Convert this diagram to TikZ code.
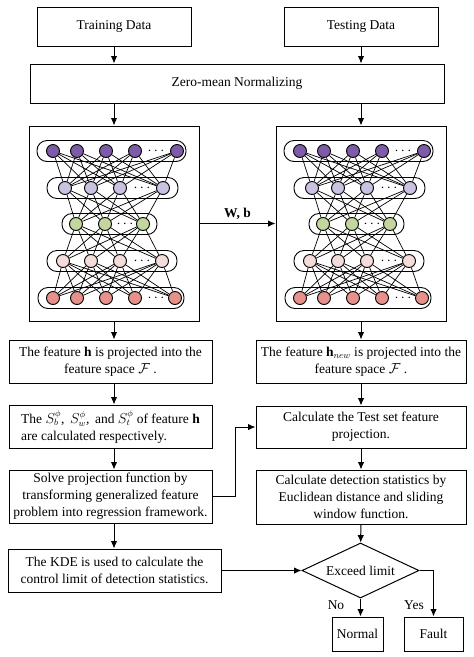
\documentclass[tikz,border=0pt]{standalone}
\usepackage{fontspec}
\setmainfont{Liberation Serif}
\usetikzlibrary{positioning,shapes.geometric,arrows.meta}

\definecolor{neuA}{HTML}{7D5BA6}
\definecolor{neuB}{HTML}{CBC1E1}
\definecolor{neuC}{HTML}{C3D69B}
\definecolor{neuD}{HTML}{F4DCDA}
\definecolor{neuE}{HTML}{E6918C}

\tikzset{
  box/.style={draw,line width=1pt,inner sep=2pt,align=center},
  arr/.style={-{Latex[length=7.5pt,width=6.5pt]},line width=1pt},
  neuron/.style={circle,draw,line width=.9pt,minimum size=13pt,inner sep=0pt},
  layerbox/.style={draw,line width=.9pt,rounded corners=10pt},
  link/.style={line width=.7pt},
  cond/.style={diamond,draw,line width=1pt,aspect=2.13,minimum width=117pt,minimum height=55pt,inner sep=0pt},
}

% one autoencoder network, #1 = name prefix, #2 = x of its centre
\newcommand{\drawnet}[2]{%
\begin{scope}[xshift=#2pt]
\foreach \ly/\xl/\xr in {151/-77/72,188/-67/64,224/-52/43,261/-67/63,298/-76/70}
  \draw[layerbox] (\xl,\ly-10.5) rectangle (\xr,\ly+10.5);
\foreach \x[count=\i] in {-61,-37,-8,21,63}
  \node[neuron,fill=neuA] (#1a\i) at (\x,151) {};
\foreach \x[count=\i] in {-49,-23,6,49}
  \node[neuron,fill=neuB] (#1b\i) at (\x,188) {};
\foreach \x[count=\i] in {-38,-9,29}
  \node[neuron,fill=neuC] (#1c\i) at (\x,224) {};
\foreach \x[count=\i] in {-51,-23,6,48}
  \node[neuron,fill=neuD] (#1d\i) at (\x,261) {};
\foreach \x[count=\i] in {-61,-37,-8,21,61}
  \node[neuron,fill=neuE] (#1e\i) at (\x,298) {};
\foreach \x/\y in {42/151,28/188,11/224,28/261,42/298}
  \node[inner sep=0pt] at (\x,\y) {$\cdots$};
\foreach \i in {1,...,5}{
  \foreach \j in {1,...,4}{
    \draw[link] (#1a\i) -- (#1b\j);
    \draw[link] (#1e\i) -- (#1d\j);
  }
}
\foreach \i in {1,...,4}{
  \foreach \j in {1,...,3}{
    \draw[link] (#1b\i) -- (#1c\j);
    \draw[link] (#1d\i) -- (#1c\j);
  }
}
\end{scope}}

\begin{document}
\begin{tikzpicture}[x=1pt,y=-1pt,font=\fontsize{13.5}{17}\selectfont]
\useasboundingbox (0,0) rectangle (474,657);

\node[box,minimum width=154pt,minimum height=39pt] (train) at (114,26.5) {Training Data};
\node[box,minimum width=154pt,minimum height=39pt] (test) at (361,26.5) {Testing Data};
\node[box,minimum width=414pt,minimum height=39pt] (norm) at (237,83.5) {Zero-mean Normalizing};

\node[draw,line width=1pt,minimum width=170pt,minimum height=195pt] (nnL) at (114,223.5) {};
\node[draw,line width=1pt,minimum width=170pt,minimum height=195pt] (nnR) at (361,223.5) {};
\drawnet{L}{114}
\drawnet{R}{361}

\coordinate (colL) at (114,0);
\coordinate (bend) at (235,0);

\node[box,minimum width=203pt,minimum height=43pt] (f1L) at (110.5,361.5)
  {The feature \textbf{h} is projected into the\\feature space $\mathcal{F}$ .};
\node[box,minimum width=210pt,minimum height=43pt] (f1R) at (361,361.5)
  {The feature \textbf{h}$_{new}$ is projected into the\\feature space $\mathcal{F}$ .};
\node[box,align=left,minimum width=203pt,minimum height=43pt] (f2L) at (110.5,426.5)
  {The $S_b^{\phi}$,\, $S_w^{\phi}$,\, and $S_t^{\phi}$ of feature \textbf{h}\\are calculated respectively.};
\node[box,minimum width=210pt,minimum height=42pt] (f2R) at (361,427)
  {Calculate the Test set feature\\projection.};
\node[box,minimum width=203pt,minimum height=53pt] (f3L) at (110.5,496.5)
  {Solve projection function by\\transforming generalized feature\\problem into regression framework.};
\node[box,minimum width=210pt,minimum height=54pt] (f3R) at (361,497)
  {Calculate detection statistics by\\Euclidean distance and sliding\\window function.};
\node[box,minimum width=213pt,minimum height=43pt] (kde) at (114.5,570.5)
  {The KDE is used to calculate the\\control limit of detection statistics.};
\node[cond] (limit) at (360.5,570.5) {Exceed limit};
\node[box,minimum width=51pt,minimum height=34pt] (normal) at (357.5,634) {Normal};
\node[box,minimum width=59pt,minimum height=34pt] (fault) at (433.5,634) {Fault};
\node (nolbl) at (336,605) {No};
\node (yeslbl) at (414,605) {Yes};

\draw[arr] (train) -- (train.south |- norm.north);
\draw[arr] (test) -- (test.south |- norm.north);
\draw[arr] (nnL.north |- norm.south) -- (nnL);
\draw[arr] (nnR.north |- norm.south) -- (nnR);
\draw[arr] (nnL) -- node[above,font=\fontsize{13.5}{17}\bfseries] (wb) {W, b} (nnR);
\draw[arr] (nnL) -- (nnL.south |- f1L.north);
\draw[arr] (nnR) -- (f1R);
\draw[arr] (f1L.south -| colL) -- (f2L.north -| colL);
\draw[arr] (f2L.south -| colL) -- (f3L.north -| colL);
\draw[arr] (f3L.south -| colL) -- (kde.north -| colL);
\draw[arr] (f3L.east) -- (f3L.east -| bend) |- (f2R.west);
\draw[arr] (f1R) -- (f2R);
\draw[arr] (f2R) -- (f3R);
\draw[arr] (f3R) -- (limit);
\draw[arr] (kde) -- (limit);
\draw[arr] (limit.south) -- (limit.south |- normal.north);
\draw[arr] (limit.east) -| (fault.north);
\end{tikzpicture}
\end{document}
